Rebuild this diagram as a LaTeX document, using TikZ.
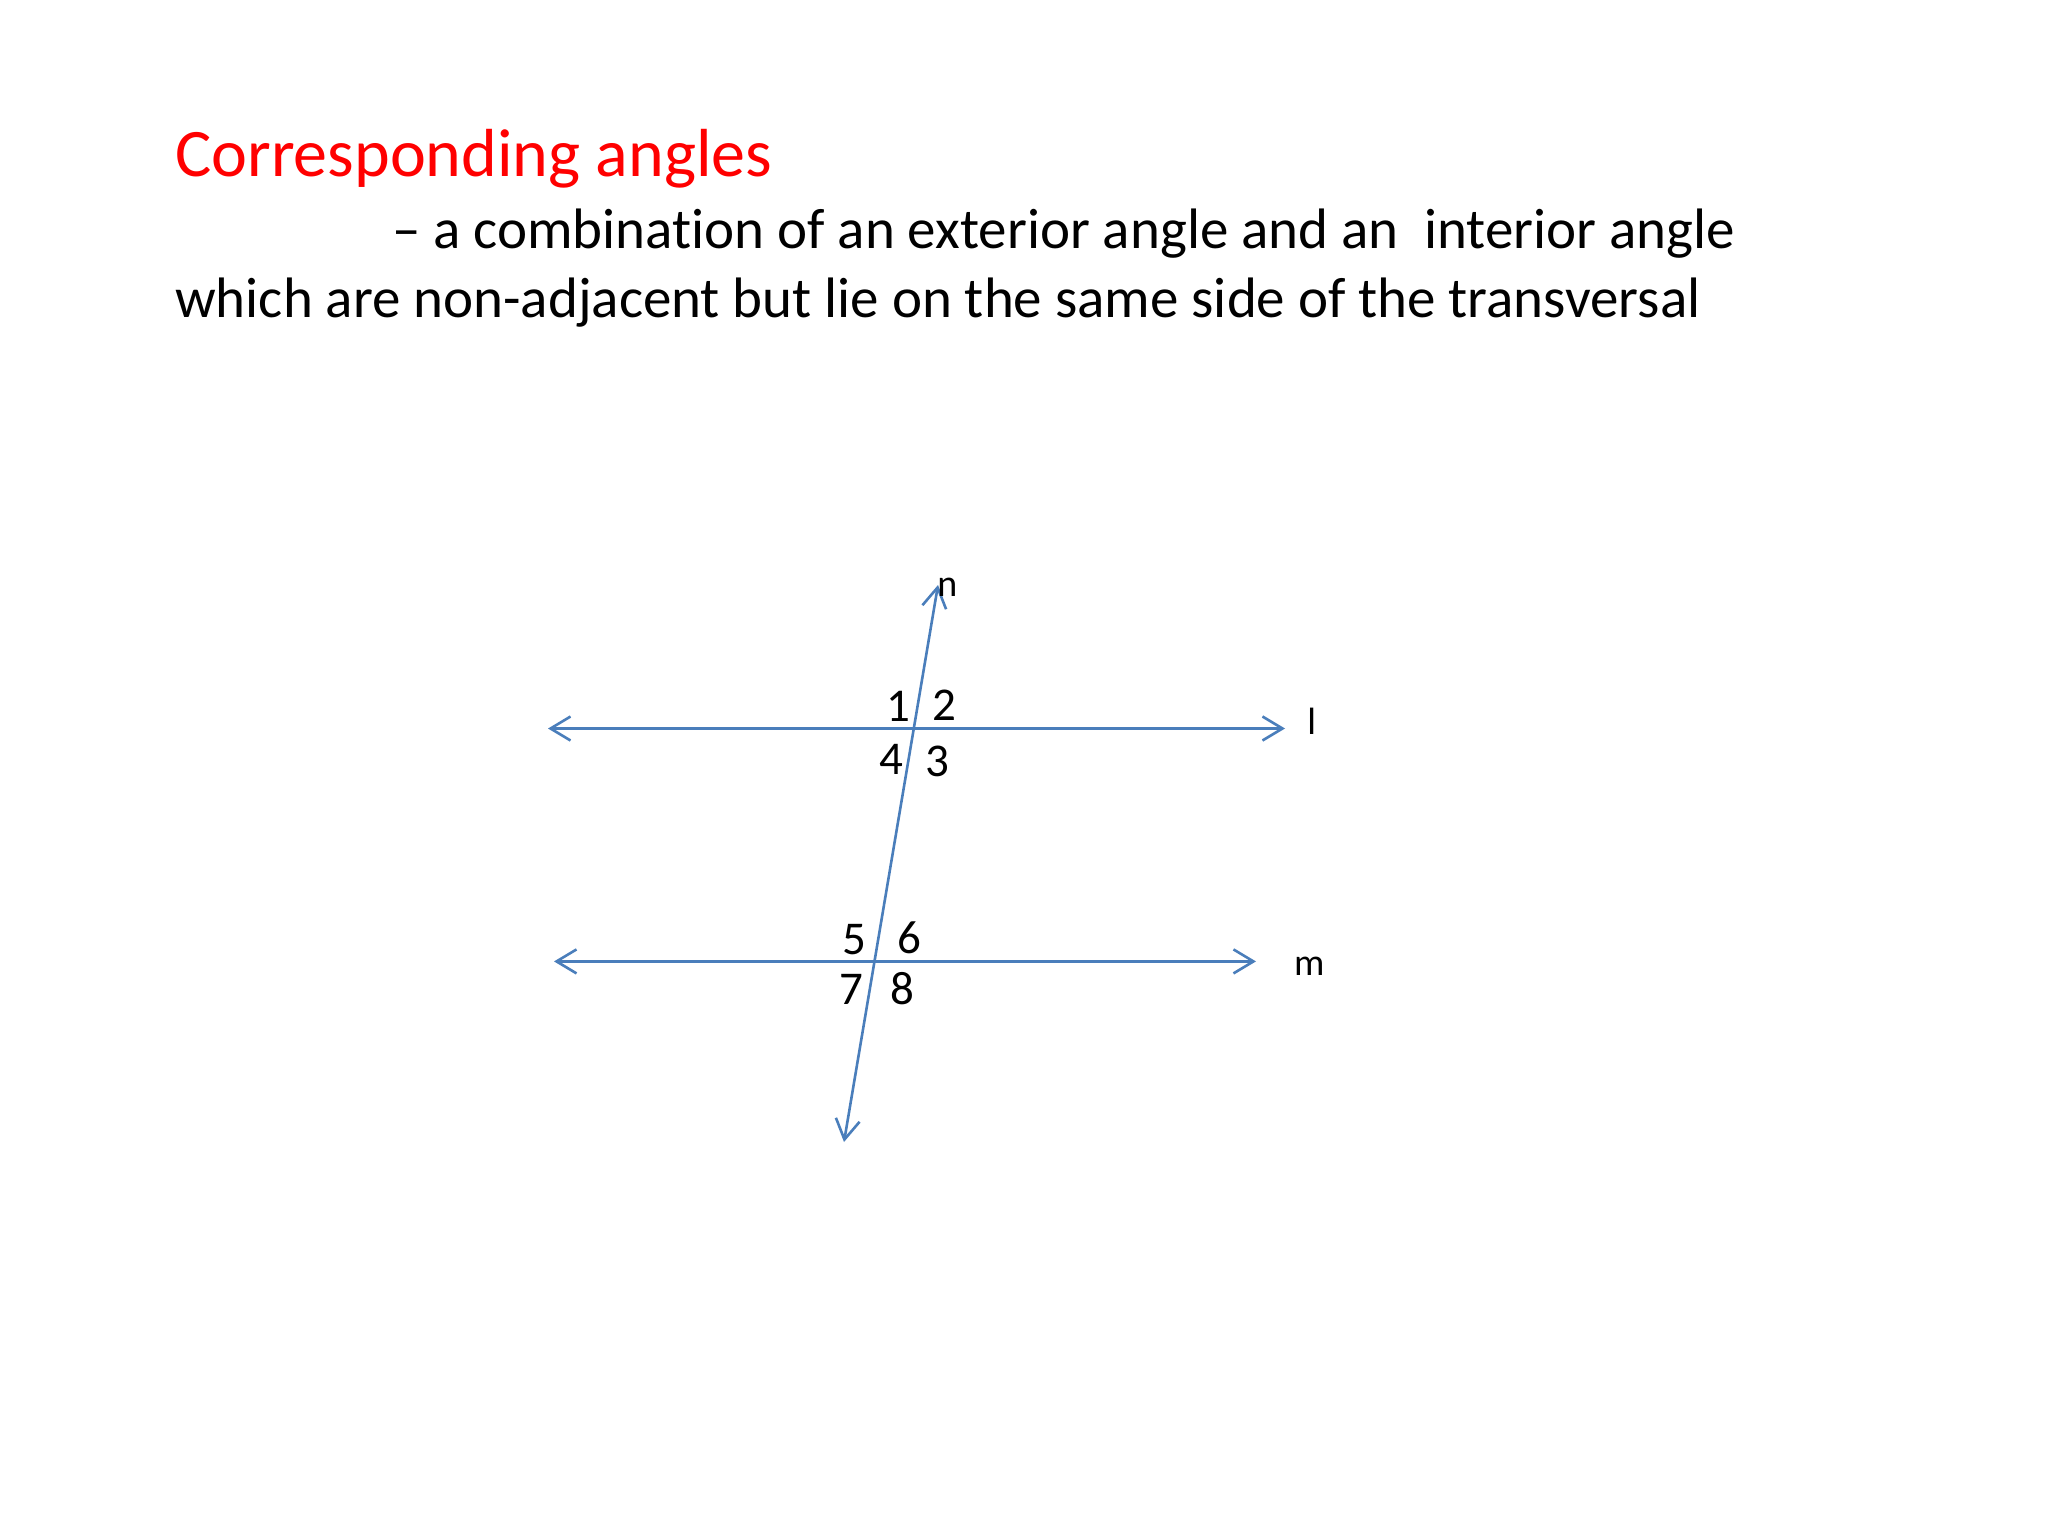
\documentclass[tikz,border=0pt]{standalone}
\usepackage{fontspec}
\setmainfont{Carlito}[Ligatures=NoCommon]
\usepackage{tikz}
\usetikzlibrary{arrows.meta}
\definecolor{linieblau}{HTML}{4A7EBB}
\definecolor{titelrot}{HTML}{FF0000}

\begin{document}
\begin{tikzpicture}[x=1pt,y=-1pt,
  line_arrow/.style={draw=linieblau,line width=2.6pt,{Straight Barb[length=20pt,width=24pt]}-{Straight Barb[length=20pt,width=24pt]}},
  angle_num/.style={inner sep=0pt,font=\fontsize{47}{54}\selectfont},
  line_name/.style={inner sep=0pt,font=\fontsize{38}{44}\selectfont}]

   \fill[white] (0,0) rectangle (2048,1536);
   \useasboundingbox (0,0) rectangle (2048,1536);

    \node[anchor=base west,inner sep=0pt,text=titelrot,font=\fontsize{68}{80}\selectfont] (title) at (175,176) {Corresponding angles};
    \node[anchor=base west,inner sep=0pt,font=\fontsize{57}{68}\selectfont] (text1) at (392,248) {-- a combination of an exterior angle and an\ \ interior angle};
    \node[anchor=base west,inner sep=0pt,font=\fontsize{57}{68}\selectfont] (text2) at (175,317) {which are non-adjacent but lie on the same side of the transversal};

    \coordinate (l1) at (548,728.5);
    \coordinate (l2) at (1285,728.5);
    \coordinate (m1) at (554,961.4);
    \coordinate (m2) at (1256,961.4);
    \coordinate (n1) at (938,585);
    \coordinate (n2) at (844,1142);

    \draw[line_arrow] (l1) -- (l2);
    \draw[line_arrow] (m1) -- (m2);
    \draw[line_arrow] (n2) -- (n1);

    \node[angle_num] (a1) at (898.6,706.7) {1};
    \node[angle_num] (a2) at (944.7,705.5) {2};
    \node[angle_num] (a3) at (937,761) {3};
    \node[angle_num] (a4) at (891,759.2) {4};
    \node[angle_num] (a5) at (854,939.2) {5};
    \node[angle_num] (a6) at (908.9,937.3) {6};
    \node[angle_num] (a7) at (851.5,989) {7};
    \node[angle_num] (a8) at (902.2,989) {8};

    \node[line_name] (ln) at (947.3,586.8) {n};
    \node[line_name] (ll) at (1311.8,720.9) {l};
    \node[line_name] (lm) at (1309.3,966.7) {m};

\end{tikzpicture}
\end{document}
